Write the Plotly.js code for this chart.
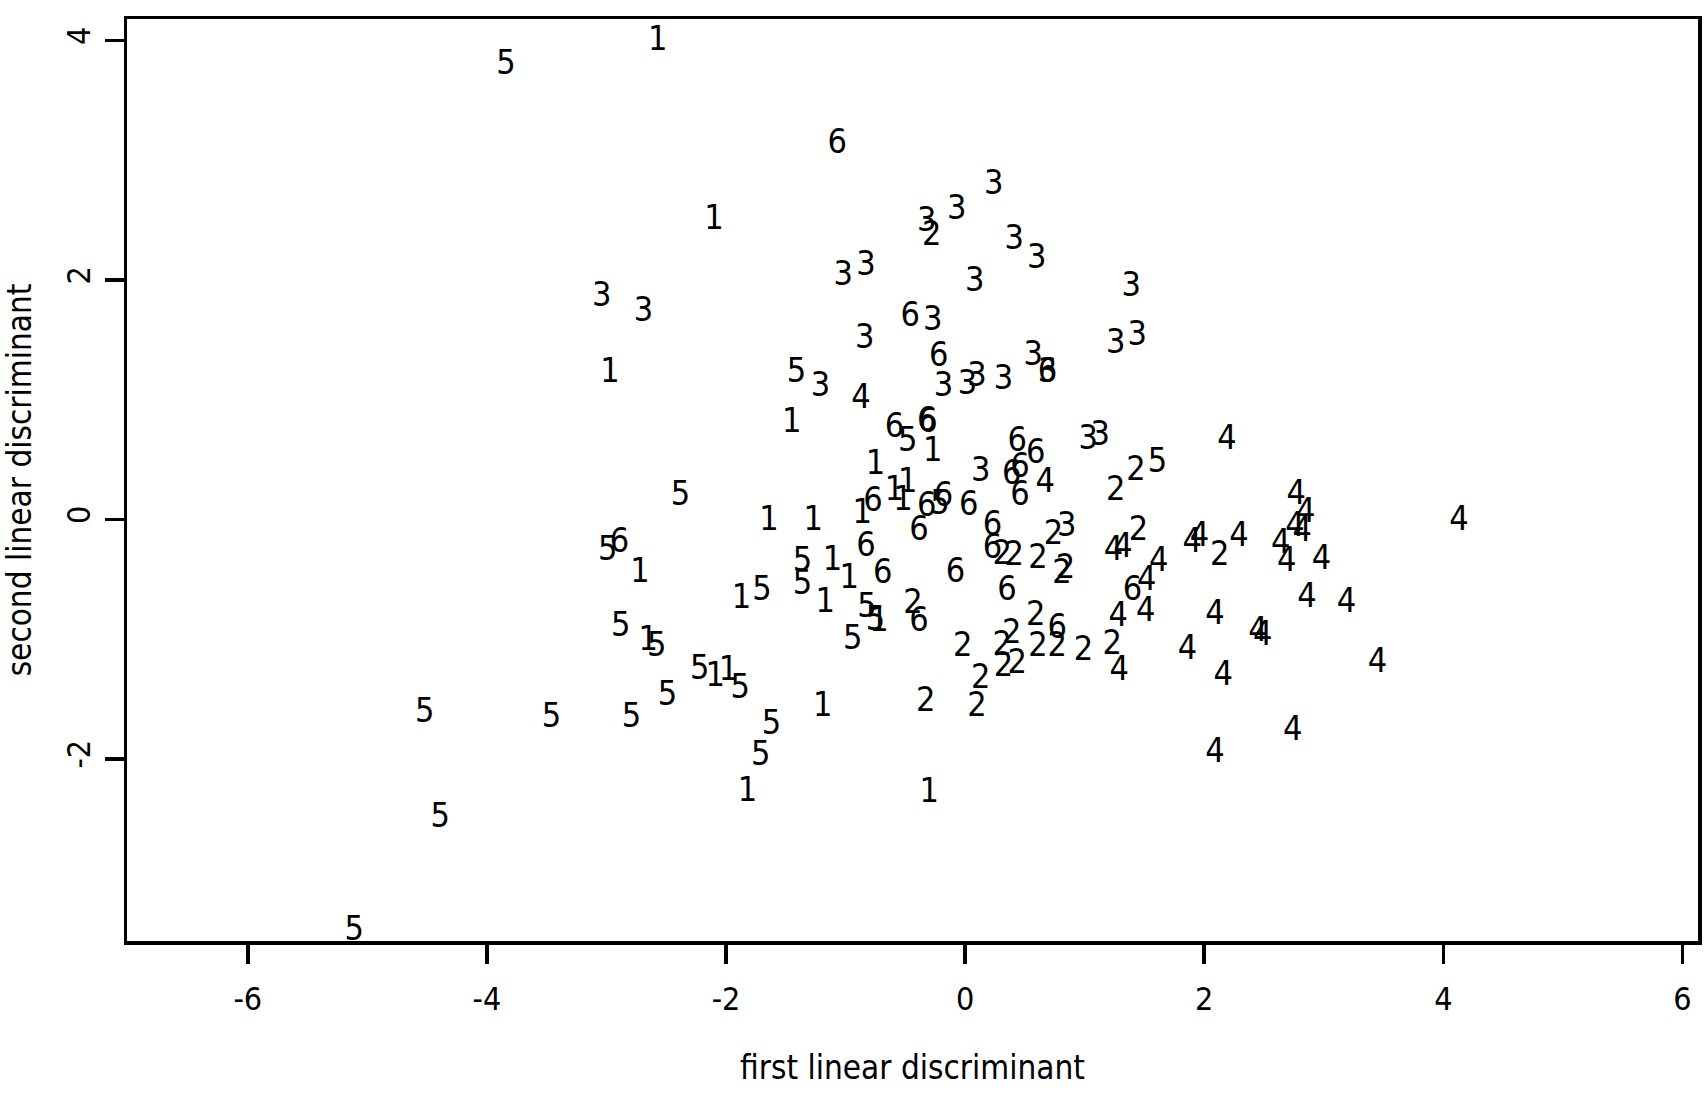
<!DOCTYPE html>
<html>
<head>
<meta charset="utf-8">
<script src="https://cdn.plot.ly/plotly-3.0.1.min.js"></script>
<style>html,body{margin:0;padding:0;background:#fff;}#plot{width:1706px;height:1119px;}</style>
</head>
<body>
<div id="plot"></div>
<script>
// Group labels
const groups = ["1", "2", "3", "4", "5", "6"];

// Group 1
const x1 = [-2.57,-2.10,-2.97,-1.45,-0.27,-0.75,-0.59,-0.48,-0.52,-0.86,-1.64,-1.27,-1.11,-0.97,-1.87,-1.17,-0.72,-2.72,-2.65,-2.09,-1.98,-1.19,-1.82,-0.30];
const y1 = [3.99,2.50,1.22,0.80,0.56,0.455,0.23,0.30,0.15,0.04,-0.02,-0.02,-0.35,-0.50,-0.67,-0.70,-0.86,-0.45,-1.02,-1.32,-1.27,-1.57,-2.28,-2.29];

// Group 2
const x2 = [-0.28,1.26,1.43,0.74,1.45,0.31,0.41,0.61,0.81,0.84,2.13,-0.435,0.59,0.39,-0.02,0.31,0.61,0.77,0.99,1.23,0.32,0.435,0.13,0.10,-0.33];
const y2 = [2.36,0.23,0.40,-0.13,-0.10,-0.30,-0.31,-0.33,-0.46,-0.42,-0.31,-0.71,-0.81,-0.96,-1.07,-1.06,-1.07,-1.07,-1.10,-1.05,-1.24,-1.21,-1.34,-1.57,-1.53];

// Group 3
const x3 = [0.24,-0.07,-0.32,0.41,0.60,-1.02,-0.83,0.08,1.39,-3.04,-2.69,-0.27,-0.84,1.26,1.44,0.57,0.69,0.32,0.10,0.02,-0.18,-1.21,1.03,1.13,0.13,0.85];
const y3 = [2.79,2.58,2.48,2.33,2.17,2.03,2.11,1.98,1.94,1.85,1.73,1.65,1.50,1.46,1.53,1.36,1.22,1.16,1.19,1.12,1.10,1.10,0.66,0.69,0.39,-0.07];

// Group 4
const x4 = [-0.87,0.67,2.19,2.77,2.85,2.76,2.82,4.13,1.90,1.96,2.29,2.64,2.69,2.98,1.62,1.24,1.32,1.52,1.28,1.51,2.86,3.19,2.09,1.86,2.45,2.49,2.16,1.29,3.45,2.74,2.09];
const y4 = [1.00,0.30,0.66,0.20,0.05,-0.07,-0.11,-0.02,-0.20,-0.15,-0.15,-0.21,-0.36,-0.34,-0.36,-0.27,-0.24,-0.52,-0.82,-0.78,-0.66,-0.70,-0.80,-1.09,-0.94,-0.98,-1.31,-1.27,-1.20,-1.77,-1.95];

// Group 5
const x5 = [-3.84,-1.41,-0.48,-0.21,1.61,-2.38,-2.99,-1.36,-1.36,-1.70,-0.82,-0.75,-0.94,-2.88,-2.58,-2.22,-1.88,-2.49,-2.79,-1.62,-1.71,-4.52,-3.46,-4.39,-5.11];
const y5 = [3.79,1.22,0.64,0.12,0.47,0.19,-0.27,-0.36,-0.55,-0.60,-0.74,-0.85,-1.01,-0.90,-1.07,-1.26,-1.42,-1.48,-1.66,-1.72,-1.98,-1.62,-1.66,-2.50,-3.44];

// Group 6
const x6 = [-1.07,-0.46,-0.22,0.69,-0.59,-0.32,-0.31,0.435,0.59,0.39,0.46,0.46,-0.77,-0.32,-0.18,0.03,0.23,-0.385,-0.83,0.23,-2.89,-0.69,-0.08,0.35,1.40,-0.385,0.77];
const y6 = [3.13,1.69,1.35,1.22,0.76,0.81,0.80,0.64,0.54,0.37,0.43,0.19,0.14,0.10,0.18,0.11,-0.06,-0.10,-0.23,-0.25,-0.20,-0.46,-0.45,-0.60,-0.60,-0.86,-0.92];

// Axis ticks
const xTicks = [-6, -4, -2, 0, 2, 4, 6];
const yTicks = [-2, 0, 2, 4];

const xs = [x1, x2, x3, x4, x5, x6];
const ys = [y1, y2, y3, y4, y5, y6];

const FONT = "DejaVu Sans Condensed, DejaVu Sans, sans-serif";

const traces = groups.map((g, i) => ({
  type: "scatter",
  mode: "text",
  x: xs[i],
  y: ys[i],
  text: xs[i].map(() => g),
  textposition: "middle center",
  textfont: {family: FONT, size: 34, color: "#000"},
  hoverinfo: "x+y+text",
  showlegend: false,
  cliponaxis: false
}));

const layout = {
  width: 1706,
  height: 1119,
  margin: {l: 127, r: 8, t: 19, b: 178},
  paper_bgcolor: "#fff",
  plot_bgcolor: "#fff",
  showlegend: false,
  font: {family: FONT, color: "#000"},
  xaxis: {
    range: [-7.01, 6.13],
    tickvals: xTicks,
    ticktext: xTicks.map(String),
    ticks: "outside",
    ticklen: 19,
    tickwidth: 3.5,
    tickcolor: "#000",
    ticklabelstandoff: 8,
    tickfont: {family: FONT, size: 32, color: "#000"},
    showline: true,
    linewidth: 3.5,
    linecolor: "#000",
    mirror: true,
    showgrid: false,
    zeroline: false,
    title: {text: "first linear discriminant", font: {family: FONT, size: 33, color: "#000"}, standoff: 40}
  },
  yaxis: {
    range: [-3.52, 4.18],
    tickvals: yTicks,
    ticktext: yTicks.map(String),
    ticks: "outside",
    ticklen: 19,
    tickwidth: 3.5,
    tickcolor: "#000",
    tickangle: -90,
    ticklabelstandoff: 2,
    tickfont: {family: FONT, size: 32, color: "#000"},
    showline: true,
    linewidth: 3.5,
    linecolor: "#000",
    mirror: true,
    showgrid: false,
    zeroline: false,
    title: {text: "second linear discriminant", font: {family: FONT, size: 33, color: "#000"}, standoff: 52}
  }
};

Plotly.newPlot("plot", traces, layout, {displayModeBar: false, staticPlot: true});
</script>
</body>
</html>
